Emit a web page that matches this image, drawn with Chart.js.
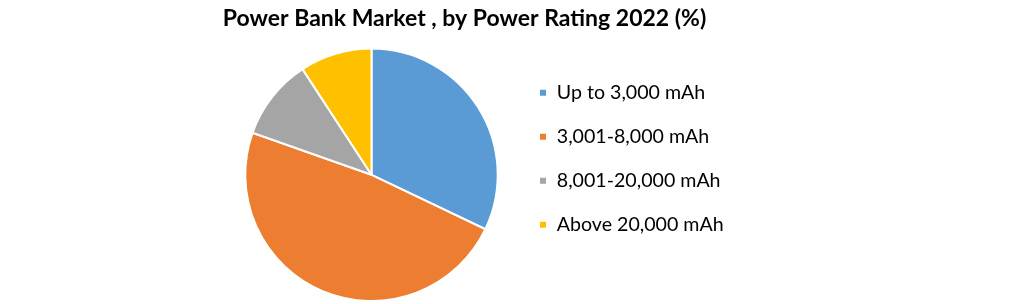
<!DOCTYPE html>
<html>
<head>
<meta charset="utf-8">
<script src="https://cdn.jsdelivr.net/npm/chart.js@4.4.0/dist/chart.umd.min.js"></script>
<style>
  html, body { margin: 0; padding: 0; background: #fff; }
  #wrap { width: 1021px; height: 304px; }
</style>
</head>
<body>
<div id="wrap"><canvas id="chart-power-rating"></canvas></div>
<script>
// Power rating share, 2022 (%)
const categories = ['Up to 3,000 mAh', '3,001-8,000 mAh', '8,001-20,000 mAh', 'Above 20,000 mAh'];
const shares = [32.1, 48.3, 10.4, 9.2];
const sliceColors = ['#5b9bd5', '#ed7d31', '#a5a5a5', '#ffc000'];

new Chart(document.getElementById('chart-power-rating'), {
    type: 'pie',
    data: {
        // one-line arrays so the legend row height follows font.lineHeight
        labels: categories.map(c => [c]),
        datasets: [{ data: shares, backgroundColor: sliceColors, borderColor: '#ffffff', borderWidth: 2 }]
    },
    options: {
        responsive: true,
        maintainAspectRatio: false,
        animation: false,
        layout: { padding: { left: 204, right: 296, top: 0, bottom: 2 } },
        plugins: {
            title: {
                display: true,
                text: 'Power Bank Market , by Power Rating 2022 (%)',
                color: '#000',
                font: { family: 'Lato', size: 23, weight: 'bold' },
                padding: { top: 5, bottom: 15 }
            },
            legend: {
                position: 'right',
                maxWidth: 186,
                title: { display: true, text: ' ', font: { size: 10 }, padding: { top: 0, bottom: 28 } },
                labels: {
                    boxWidth: 8, boxHeight: 8, padding: 0,
                    color: '#000',
                    font: { family: 'Lato', size: 19.6, lineHeight: 2.245 }
                }
            },
            tooltip: { enabled: false }
        }
    }
});
</script>
</body>
</html>
